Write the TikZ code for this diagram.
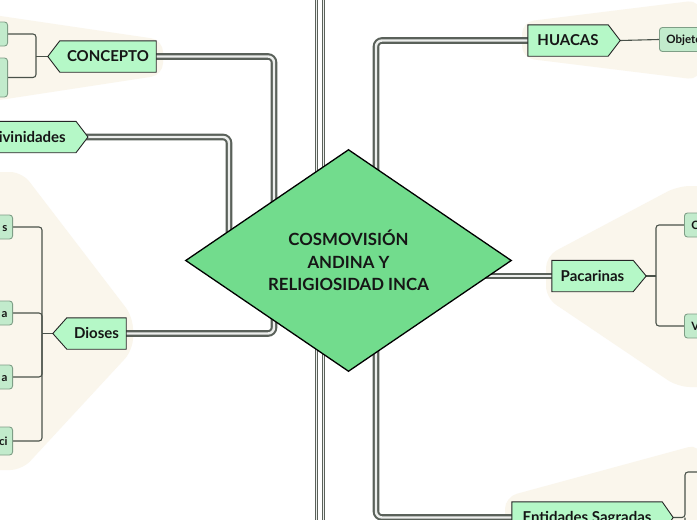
\documentclass[tikz,border=0pt]{standalone}
\usepackage{fontspec}
\setmainfont{Lato}
\usetikzlibrary{shapes.geometric,calc}
\definecolor{blobc}{HTML}{FAF6EC}
\definecolor{brfill}{HTML}{B5F8C7}
\definecolor{chfill}{HTML}{C2EBCC}
\definecolor{chdraw}{HTML}{7E9E86}
\definecolor{dmfill}{HTML}{72DC8D}
\definecolor{lnc}{HTML}{5A615A}
\definecolor{lnin}{HTML}{ECEEEC}
\definecolor{brk}{HTML}{4A524A}
\definecolor{txt}{HTML}{161616}
\pgfdeclarelayer{blobs}\pgfdeclarelayer{lines}\pgfdeclarelayer{shapes}
\pgfsetlayers{blobs,lines,shapes,main}
\tikzset{
 conn/.style={draw=lnc, line width=2.1pt, double=lnin, double distance=2.4pt, rounded corners=6pt},
 thinconn/.style={draw=lnc, line width=1.1pt, double=lnin, double distance=1.2pt},
 bracket/.style={draw=brk, line width=1.1pt, rounded corners=3pt},
 blob/.style={fill=blobc, rounded corners=12pt},
 brtext/.style={font=\bfseries\fontsize{15}{18}\selectfont, text=txt, inner xsep=0pt, inner ysep=0pt, minimum height=31pt, text height=10.8pt, text depth=0pt},
 brshape/.style={fill=brfill, draw=black!85, line width=0.9pt},
 chbox/.style={fill=chfill, draw=chdraw, line width=0.9pt, rounded corners=3pt, font=\bfseries\fontsize{11.5}{13}\selectfont, text=txt, minimum height=24pt, inner sep=0pt, text height=8.3pt, text depth=0pt},
 chL/.style={chbox, anchor=east, inner xsep=5pt, text width=30pt, align=right},
 chR/.style={chbox, anchor=west, inner xsep=7pt},
 coreshape/.style={diamond, fill=dmfill, draw=black, line width=1.3pt, minimum width=326pt, minimum height=222pt, inner sep=0pt, align=center, font=\bfseries\fontsize{16.8}{22.5}\selectfont, text=txt}
}
\newcommand\brE[2]{\begin{pgfonlayer}{shapes}\path[brshape] (#1.north west) -- (#1.north east) -- ([xshift=#2]#1.east) -- (#1.south east) -- (#1.south west) -- cycle;\end{pgfonlayer}}
\newcommand\brW[2]{\begin{pgfonlayer}{shapes}\path[brshape] (#1.north east) -- (#1.north west) -- ([xshift=-#2]#1.west) -- (#1.south west) -- (#1.south east) -- cycle;\end{pgfonlayer}}
\begin{document}
\begin{tikzpicture}[x=1pt,y=-1pt]
\useasboundingbox (0,0) rectangle (697,520);
\begin{pgfonlayer}{blobs}
\fill[white] (0,0) rectangle (697,520);
\fill[blob] (-20,13) -- (163,40) -- (163,75) -- (-20,103) -- cycle;
\fill[blob] (-20,172) -- (22,172) -- (133,317) -- (133,350) -- (22,470) -- (-20,470) -- cycle;
\fill[blob] (522,22) -- (700,0) -- (700,80) -- (522,58) -- cycle;
\fill[blob] (546,256) -- (678,186) -- (710,186) -- (710,387) -- (678,387) -- (546,298) -- cycle;
\fill[blob] (505,497) -- (700,444) -- (700,530) -- (505,530) -- cycle;
\end{pgfonlayer}

% central node
\node[coreshape] (core) at (348.5,260.5) {COSMOVISIÓN\\ANDINA Y\\RELIGIOSIDAD INCA};

% branches
\node[brtext, minimum width=96pt] (concepto) at (108,56.5) {CONCEPTO};
\node[brtext, inner xsep=10pt, anchor=east] (divin) at (76,137) {Divinidades};
\node[brtext, minimum width=59pt] (dioses) at (96.5,333.5) {Dioses};
\node[brtext, minimum width=80pt] (huacas) at (568,40.5) {HUACAS};
\node[brtext, minimum width=81pt] (pac) at (592.5,276) {Pacarinas};
\node[brtext, minimum width=150pt] (ent) at (587,517.5) {Entidades Sagradas};
\brW{concepto}{12pt}
\brE{divin}{12pt}
\brW{dioses}{14pt}
\brE{huacas}{12pt}
\brE{pac}{13pt}
\brE{ent}{11pt}
\coordinate (conceptoT) at ([xshift=-12pt]concepto.west);
\coordinate (diosesT) at ([xshift=-14pt]dioses.west);
\coordinate (huacasT) at ([xshift=12pt]huacas.east);
\coordinate (pacT) at ([xshift=13pt]pac.east);
\coordinate (entT) at ([xshift=11pt]ent.east);

% children
\node[chbox, anchor=east, minimum width=40pt] (c1) at (8,34) {};
\node[chbox, anchor=east, minimum width=40pt, minimum height=39pt] (c2) at (8,77.5) {};
\node[chL] (d1) at (13,227) {s};
\node[chL] (d2) at (13,313) {a};
\node[chL] (d3) at (13,377) {a};
\node[chL, minimum height=28pt] (d4) at (13,441) {ci};
\node[chR] (obj) at (659,39.5) {Objetos};
\node[chR] (p1) at (684,225) {C};
\node[chR] (p2) at (684,326) {V};
\coordinate (e1) at (705,472);
\coordinate (e2) at (705,560);

% junctions
\coordinate (cJ) at (36,56.5);
\coordinate (dJ) at (42,333.5);
\coordinate (pJ) at (656,276);
\coordinate (eJ) at (685,517.5);
\coordinate (tA) at (316.6,-10);
\coordinate (tB) at (323.4,-10);
\coordinate (bA) at (316.6,530);
\coordinate (bB) at (323.4,530);

\begin{pgfonlayer}{lines}
\draw[conn] (concepto.east) -| ($(core.center)+(-74.5,0)$) -- (core.center);
\draw[conn] (divin.east) -| ($(core.center)+(-119.5,0)$) -- (core.center);
\draw[conn] (dioses.east) -| ($(core.center)+(-74.5,0)$) -- (core.center);
\draw[conn] (huacas.west) -| ($(core.center)+(27.5,0)$) -- (core.center);
\draw[conn] (ent.west) -| ($(core.center)+(27.5,0)$) -- (core.center);
\draw[conn] (core.center |- pac.west) -- (pac.west);
\draw[thinconn] (tA) -- (tA |- core.center);
\draw[thinconn] (tB) -- (tB |- core.center);
\draw[thinconn] (bA) -- (bA |- core.center);
\draw[thinconn] (bB) -- (bB |- core.center);
% brackets
\draw[bracket] (c1.east) -| (cJ) |- (c2.east);
\draw[bracket] (cJ) -- (conceptoT);
\foreach \c in {d1,d2,d3,d4} \draw[bracket] (\c.east) -| (dJ);
\draw[bracket] (dJ) -- (diosesT);
\draw[bracket] (huacasT) -- (obj.west);
\draw[bracket] (p1.west) -| (pJ);
\draw[bracket] (p2.west) -| (pJ);
\draw[bracket] (pJ) -- (pacT);
\draw[bracket] (entT) -- (eJ) |- (e1);
\draw[bracket] (eJ) |- (e2);
\end{pgfonlayer}
\end{tikzpicture}
\end{document}
